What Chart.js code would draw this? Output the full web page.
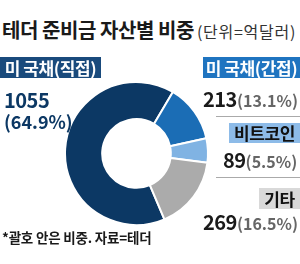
<!DOCTYPE html>
<html>
<head>
<meta charset="utf-8">
<script src="https://cdn.jsdelivr.net/npm/chart.js@4"></script>
<style>
  body { margin: 0; width: 300px; height: 264px; background: #fff; overflow: hidden;
         font-family: "Noto Sans CJK KR", "Noto Sans", sans-serif; }
  #wrap { position: relative; width: 300px; height: 264px; }
  #pie { position: absolute; left: 61px; top: 78px; }
  .t { position: absolute; white-space: nowrap; line-height: 1; }
  .box { position: absolute; font-weight: bold; font-size: 17px;
         white-space: nowrap; letter-spacing: -0.4px; }
  .num { font-weight: bold; font-size: 20px; color: #1a1a1a; letter-spacing: -0.5px; }
  .num span { font-size: 16px; color: #666; letter-spacing: 0; }
  .sep { position: absolute; height: 1px; background: #aaa; }
</style>
</head>
<body>
<div id="wrap">
  <div class="t" id="title" style="left:2px;top:20px;font-size:20px;font-weight:bold;color:#1a1a1a">테더 준비금 자산별 비중</div>
  <div class="t" id="unit" style="left:197px;top:23px;font-size:16px;color:#333">(단위=억달러)</div>
  <canvas id="pie" width="151" height="151"></canvas>
  <div id="labels"></div>
  <div class="t" style="left:2px;top:231px;font-size:13.5px;font-weight:bold;color:#1a1a1a;letter-spacing:-0.2px">*괄호 안은 비중. 자료=테더</div>
</div>
<script>
// data
const categories = ["미 국채(직접)", "미 국채(간접)", "비트코인", "기타"];
const values = [1055, 213, 89, 269];
const shares = ["64.9%", "13.1%", "5.5%", "16.5%"];

const sliceColors = ["#0c3864", "#1b6db5", "#80b3e3", "#ababab"];
const boxColors = ["#194a7c", "#1f74c0", "#8dbbe8", "#d9d9d9"];

// fit title so it ends where the unit text starts
function fitText(el, target) {
  const w = el.getBoundingClientRect().width;
  const n = el.textContent.length;
  el.style.letterSpacing = ((target - w) / n) + "px";
}
fitText(document.getElementById("title"), 192);
fitText(document.getElementById("unit"), 99);

// label boxes, hand placed like the original graphic
const labelBoxes = [
  { left: 0, top: 57, width: 101, height: 21, color: "#fff" },
  { left: 203, top: 57, width: 97, height: 21, color: "#fff" },
  { left: 229, top: 123, width: 71, height: 20, color: "#111" },
  { left: 259, top: 188, width: 41, height: 21, color: "#111" }
];
const labelNums = [null, { left: 203, top: 89 }, { left: 223, top: 150 }, { left: 203, top: 212 }];

const holder = document.getElementById("labels");
for (let i = 0; i < categories.length; i++) {
  const b = document.createElement("div");
  b.className = "box";
  b.style.left = labelBoxes[i].left + "px";
  b.style.top = labelBoxes[i].top + "px";
  b.style.width = labelBoxes[i].width + "px";
  b.style.height = labelBoxes[i].height + "px";
  b.style.lineHeight = labelBoxes[i].height + "px";
  b.style.background = boxColors[i];
  b.style.color = labelBoxes[i].color;
  b.style.textAlign = "center";
  b.textContent = categories[i];
  holder.appendChild(b);

  const n = document.createElement("div");
  n.className = "t num";
  if (i == 0) {
    n.style.left = "4px";
    n.style.top = "89px";
    n.style.color = "#0c3864";
    n.style.lineHeight = "21px";
    n.innerHTML = values[i] + "<br><span style='font-size:18px;color:#0c3864'>(" + shares[i] + ")</span>";
  } else {
    n.style.left = labelNums[i].left + "px";
    n.style.top = labelNums[i].top + "px";
    n.innerHTML = values[i] + "<span>(" + shares[i] + ")</span>";
  }
  holder.appendChild(n);
}
// separator lines
[116, 177].forEach(function (y) {
  const s = document.createElement("div");
  s.className = "sep";
  s.style.left = "216px";
  s.style.top = y + "px";
  s.style.width = "84px";
  holder.appendChild(s);
});

const ctx = document.getElementById("pie").getContext("2d");
new Chart(ctx, {
  type: "doughnut",
  data: {
    labels: categories,
    datasets: [{
      data: values,
      backgroundColor: sliceColors,
      borderColor: "#fff",
      borderWidth: 2
    }]
  },
  options: {
    responsive: false,
    animation: false,
    rotation: 157,
    cutout: "48%",
    layout: { padding: 3 },
    plugins: {
      legend: { display: false },
      tooltip: { enabled: false }
    }
  }
});
</script>
</body>
</html>
